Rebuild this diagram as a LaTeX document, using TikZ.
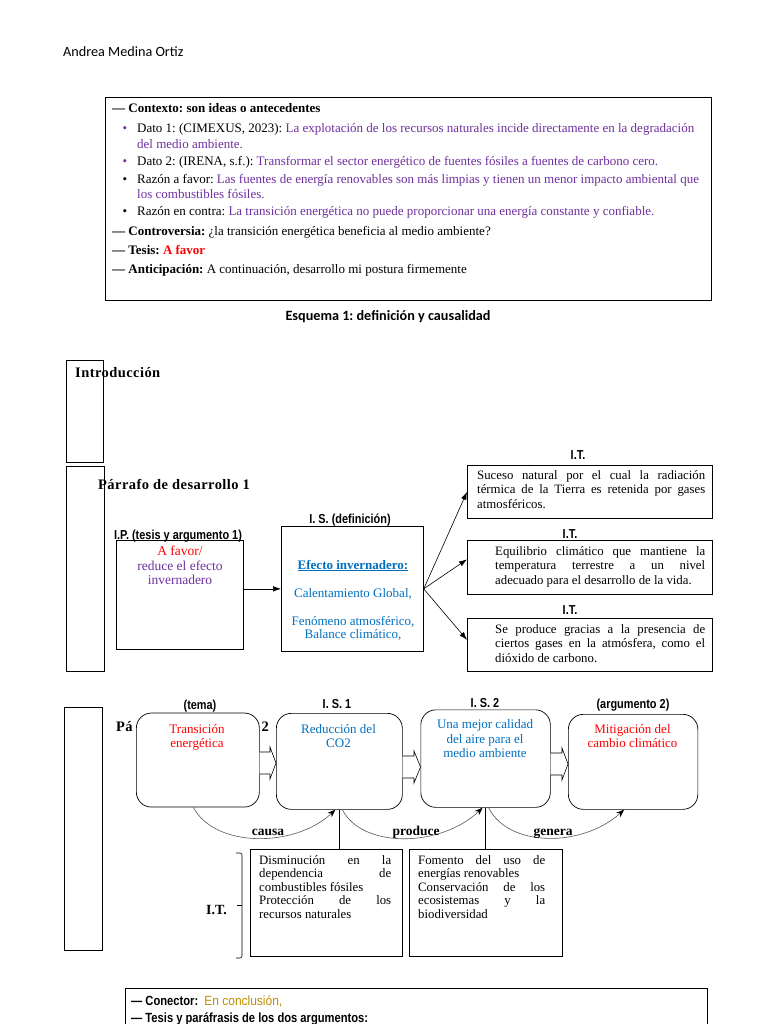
\documentclass[tikz,border=0pt]{standalone}
\usepackage{fontspec}
\setmainfont{Liberation Serif}
\newfontfamily\calib{Carlito}
\newfontfamily\arn[FakeStretch=0.9]{Liberation Sans}
\newfontfamily\arnb[FakeStretch=0.84]{Liberation Sans Bold}
\newfontfamily\ttlfont[LetterSpace=3]{Liberation Serif}
\usetikzlibrary{arrows.meta,calc}
\definecolor{purp}{HTML}{7030A0}
\definecolor{blu}{HTML}{0070C0}
\definecolor{gold}{HTML}{BF8F00}
\newcommand{\jl}[2]{\makebox[#1][s]{#2}}
\frenchspacing
\begin{document}
\begin{tikzpicture}[x=1pt,y=-1pt,
  txt/.style={anchor=base west, inner sep=0pt},
  ctr/.style={anchor=base, inner sep=0pt},
  box/.style={draw, line width=0.7pt, inner sep=0pt, anchor=north west},
  rbox/.style={box, rounded corners=15pt, fill=white},
  ctxf/.style={font=\fontsize{13}{15}\selectfont},
  dgf/.style={font=\fontsize{13}{15}\selectfont},
  ipf/.style={font=\fontsize{13.5}{15}\selectfont},
  itf/.style={font=\fontsize{12.8}{15}\selectfont},
  lab/.style={ctr, font=\arnb\fontsize{13}{14}\selectfont},
  ttl/.style={txt, font=\ttlfont\bfseries\fontsize{14.5}{15}\selectfont},
  arr/.style={line width=0.6pt, -{Latex[length=8pt,width=5.5pt]}},
  arc/.style={line width=0.6pt, draw=black!65, -{Stealth[length=8pt,width=6pt,black]}},
  barr/.style={draw, line width=0.6pt, fill=white}
]
\useasboundingbox (0,0) rectangle (768,1024);
\fill[white] (0,0) rectangle (768,1024);

% header
\node[txt, font=\calib\fontsize{14.2}{16}\selectfont] (author) at (63,57) {Andrea Medina Ortiz};

% context box
\node[box, minimum width=606pt, minimum height=203pt] (ctx) at (105,97) {};
\node[txt, ctxf] (c1) at (112,113) {\textbf{— Contexto: son ideas o antecedentes}};
\node[ctr, ctxf, text=purp] (bu1) at (125,133) {\textbullet};
\node[txt, ctxf] (c2) at (137,133) {Dato 1: (CIMEXUS, 2023): \textcolor{purp}{La explotación de los recursos naturales incide directamente en la degradación}};
\node[txt, ctxf, text=purp] (c3) at (137,149) {del medio ambiente.};
\node[ctr, ctxf, text=purp] (bu2) at (125,166) {\textbullet};
\node[txt, ctxf] (c4) at (137,166) {Dato 2: (IRENA, s.f.): \textcolor{purp}{Transformar el sector energético de fuentes fósiles a fuentes de carbono cero.}};
\node[ctr, ctxf] (bu3) at (125,184) {\textbullet};
\node[txt, ctxf] (c5) at (137,184) {Razón a favor: \textcolor{purp}{Las fuentes de energía renovables son más limpias y tienen un menor impacto ambiental que}};
\node[txt, ctxf, text=purp] (c6) at (137,199) {los combustibles fósiles.};
\node[ctr, ctxf] (bu4) at (125,216) {\textbullet};
\node[txt, ctxf] (c7) at (137,216) {Razón en contra: \textcolor{purp}{La transición energética no puede proporcionar una energía constante y confiable.}};
\node[txt, ctxf] (c8) at (112,236) {\textbf{— Controversia:} ¿la transición energética beneficia al medio ambiente?};
\node[txt, ctxf] (c9) at (112,254) {\textbf{— Tesis: \textcolor{red}{A favor}}};
\node[txt, ctxf] (c10) at (112,273) {\textbf{— Anticipación:} A continuación, desarrollo mi postura firmemente};

% caption
\node[ctr, font=\calib\bfseries\fontsize{14.2}{16}\selectfont] (cap) at (388,320) {Esquema 1: definición y causalidad};

% introduction
\node[box, minimum width=36.5pt, minimum height=101.5pt] (intro) at (66,360) {};
\node[ttl] (introt) at (75,377) {Introducción};

% paragraph 1
\node[box, minimum width=38pt, minimum height=205pt] (p1) at (66,466) {};
\node[ttl] (p1t) at (98,489) {Párrafo de desarrollo 1};

\node[lab] (ipl) at (178,539) {I.P. (tesis y argumento 1)};
\node[box, minimum width=127pt, minimum height=109pt] (ip) at (116,540) {};
\node[ctr, ipf, text=red] (ip1) at (180,555) {A favor/};
\node[ctr, ipf, text=purp] (ip2) at (180,570) {reduce el efecto};
\node[ctr, ipf, text=purp] (ip3) at (180,584.5) {invernadero};

\node[lab] (isl) at (350,523) {I. S. (definición)};
\node[box, minimum width=142pt, minimum height=125pt] (is) at (281,526) {};
\node[ctr, dgf, text=blu] (is1) at (353,569) {\textbf{\underline{Efecto invernadero:}}};
\node[ctr, dgf, text=blu] (is2) at (353,597) {Calentamiento Global,};
\node[ctr, dgf, text=blu] (is3) at (353,625) {Fenómeno atmosférico,};
\node[ctr, dgf, text=blu] (is4) at (353,638) {Balance climático,};

\draw[arr] (ip.east |- is.east) -- (is.west);

\node[lab] (it1l) at (578,459) {I.T.};
\node[box, minimum width=245pt, minimum height=53pt] (it1) at (467,465) {};
\node[txt, itf] (it1a) at (477,479) {\jl{228pt}{Suceso natural por el cual la radiación}};
\node[txt, itf] (it1b) at (477,493.5) {\jl{228pt}{térmica de la Tierra es retenida por gases}};
\node[txt, itf] (it1c) at (477,508) {atmosféricos.};

\node[lab] (it2l) at (570,538) {I.T.};
\node[box, minimum width=245pt, minimum height=54pt] (it2) at (467,540) {};
\node[txt, itf] (it2a) at (495,555) {\jl{210pt}{Equilibrio climático que mantiene la}};
\node[txt, itf] (it2b) at (495,569.5) {\jl{210pt}{temperatura terrestre a un nivel}};
\node[txt, itf] (it2c) at (495,584) {adecuado para el desarrollo de la vida.};

\node[lab] (it3l) at (570,614) {I.T.};
\node[box, minimum width=245pt, minimum height=53pt] (it3) at (467,618) {};
\node[txt, itf] (it3a) at (495,633) {\jl{210pt}{Se produce gracias a la presencia de}};
\node[txt, itf] (it3b) at (495,647.5) {\jl{210pt}{ciertos gases en la atmósfera, como el}};
\node[txt, itf] (it3c) at (495,662) {dióxido de carbono.};

\draw[arr] (is.east) -- (it1.west);
\draw[arr] (is.east) -- ([yshift=8pt]it2.west);
\draw[arr] (is.east) -- ([yshift=5pt]it3.west);

% paragraph 2 (title mostly hidden behind the first rounded box)
\node[box, minimum width=38pt, minimum height=243pt] (p2) at (64,707) {};
\node[ttl] (p2ta) at (116,731) {Pá};
\node[ttl] (p2tb) at (261.5,731) {2};

\node[lab] (b1l) at (200,709) {(tema)};
\node[lab] (b2l) at (337,708) {I. S. 1};
\node[lab] (b3l) at (485,707) {I. S. 2};
\node[lab] (b4l) at (633,708) {(argumento 2)};

\node[rbox, minimum width=123pt, minimum height=94pt] (b1) at (136,712.7) {};
\node[rbox, minimum width=126pt, minimum height=96pt] (b2) at (276,713) {};
\node[rbox, minimum width=129.5pt, minimum height=97.5pt] (b3) at (420.5,709.5) {};
\node[rbox, minimum width=129.5pt, minimum height=95pt] (b4) at (568,714) {};

\node[ctr, dgf, text=red] (b1a) at (197,733) {Transición};
\node[ctr, dgf, text=red] (b1b) at (197,747.5) {energética};
\node[ctr, dgf, text=blu] (b2a) at (338.5,733) {Reducción del};
\node[ctr, dgf, text=blu] (b2b) at (338.5,747.5) {CO2};
\node[ctr, dgf, text=blu] (b3a) at (485,728.5) {Una mejor calidad};
\node[ctr, dgf, text=blu] (b3b) at (485,743) {del aire para el};
\node[ctr, dgf, text=blu] (b3c) at (485,757) {medio ambiente};
\node[ctr, dgf, text=red] (b4a) at (632.5,733) {Mitigación del};
\node[ctr, dgf, text=red] (b4b) at (632.5,747) {cambio climático};

% block arrows
\draw[barr] (b1.east |- 0,752) -- (270,752) -- (270,747) -- (b2.west |- 0,763) -- (270,779) -- (270,774) -- (b1.east |- 0,774);
\draw[barr] (b2.east |- 0,756) -- (414,756) -- (414,751) -- (b3.west |- 0,767) -- (414,783) -- (414,778) -- (b2.east |- 0,778);
\draw[barr] (b3.east |- 0,753) -- (562,753) -- (562,748) -- (b4.west |- 0,764) -- (562,780) -- (562,775) -- (b3.east |- 0,775);

% curved arrows
\draw[arc] ([xshift=-4.5pt]b1.south) .. controls +(22,41) and +(-40,38) .. ([xshift=-4pt]b2.south);
\draw[arc] ([xshift=3pt]b2.south) .. controls +(20,39) and +(-42,40) .. ([xshift=-3pt]b3.south);
\draw[arc] ([xshift=3pt]b3.south) .. controls +(20,40) and +(-42,38) .. ([xshift=-9pt]b4.south);
\node[ctr, font=\bfseries\fontsize{13.5}{15}\selectfont] (causa) at (268,835) {causa};
\node[ctr, font=\bfseries\fontsize{13.5}{15}\selectfont] (produce) at (416,835) {produce};
\node[ctr, font=\bfseries\fontsize{13.5}{15}\selectfont] (genera) at (553,835) {genera};

% bottom IT boxes
\node[box, minimum width=152pt, minimum height=107pt] (itl) at (250,849) {};
\node[box, minimum width=152.5pt, minimum height=107pt] (itr) at (409,849) {};
\draw[line width=0.6pt] (b2.south) -- (b2.south |- itl.north);
\draw[line width=0.6pt] (b3.south) -- (b3.south |- itr.north);

\node[txt, itf] (l1) at (259,864) {\jl{132pt}{Disminución en la}};
\node[txt, itf] (l2) at (259,877.5) {\jl{132pt}{dependencia de}};
\node[txt, itf] (l3) at (259,891) {combustibles fósiles};
\node[txt, itf] (l4) at (259,904.5) {\jl{132pt}{Protección de los}};
\node[txt, itf] (l5) at (259,918) {recursos naturales};

\node[txt, itf] (r1) at (418,864) {\jl{127pt}{Fomento del uso de}};
\node[txt, itf] (r2) at (418,877.5) {energías renovables};
\node[txt, itf] (r3) at (418,891) {\jl{127pt}{Conservación de los}};
\node[txt, itf] (r4) at (418,904.5) {\jl{127pt}{ecosistemas y la}};
\node[txt, itf] (r5) at (418,918) {biodiversidad};

% bracket
\coordinate (brt) at (242,853);
\coordinate (brb) at (242,958);
\coordinate (brm) at (242,905);
\draw[line width=0.6pt, rounded corners=2pt] ([xshift=-6pt]brt) -- (brt) -- (brb) -- ([xshift=-6pt]brb);
\draw[line width=0.6pt] (brm) -- ([xshift=-5pt]brm);
\node[txt, font=\bfseries\fontsize{14}{15}\selectfont] (itb) at (206,914) {I.T.};

% conclusion box
\node[box, minimum width=582pt, minimum height=60pt] (concl) at (124.6,988) {};
\node[txt, font=\arnb\fontsize{13.3}{15}\selectfont] (k1) at (131,1005) {— Conector:\ \ {\arn\textcolor{gold}{En conclusión,}}};
\node[txt, font=\arnb\fontsize{13.3}{15}\selectfont] (k2) at (131,1022) {— Tesis y paráfrasis de los dos argumentos:};
\end{tikzpicture}
\end{document}
